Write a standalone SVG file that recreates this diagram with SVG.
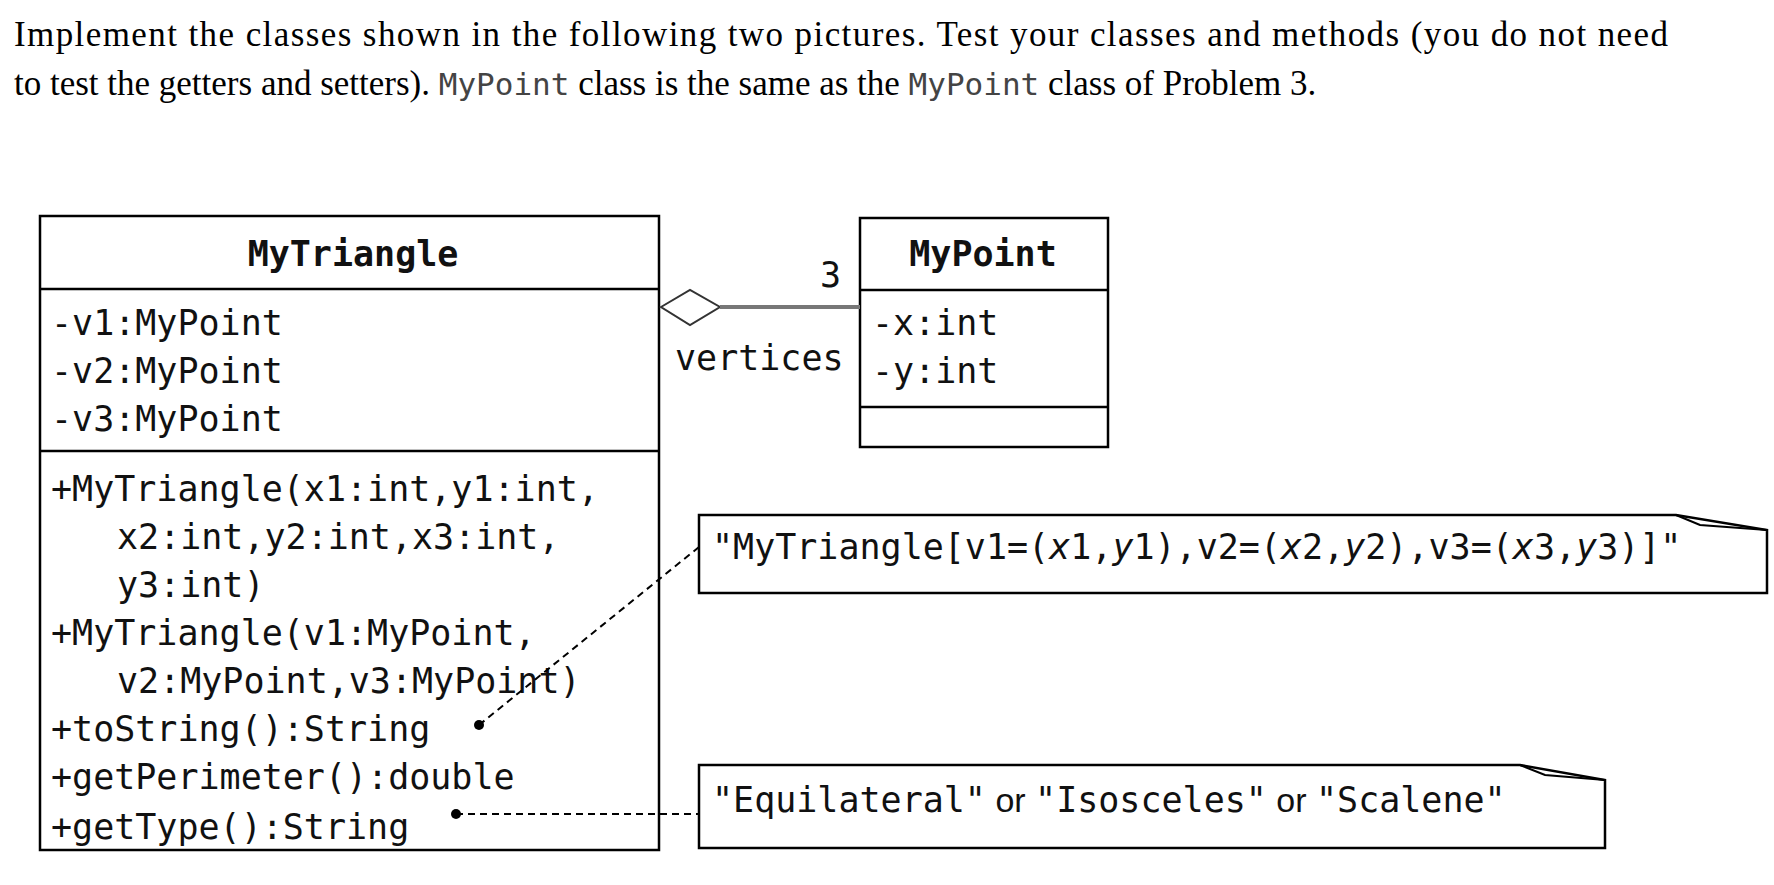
<svg xmlns="http://www.w3.org/2000/svg" width="1774" height="885" viewBox="0 0 1774 885">
<style>
.t{font-family:"Times New Roman","Liberation Serif",serif;font-size:35px;fill:#000}
.m{font-family:"DejaVu Sans Mono","Liberation Mono",monospace;font-size:35px;fill:#111}
.b{font-weight:bold}
.s{font-family:"Liberation Sans",Arial,sans-serif;font-size:34px}
.box{fill:#fff;stroke:#000;stroke-width:2.5}
.ln{stroke:#000;stroke-width:2.5}
.dash{stroke:#000;stroke-width:2;stroke-dasharray:7,5;fill:none}
</style>
<defs><clipPath id="c1"><rect x="40" y="216" width="619" height="634"/></clipPath></defs>
<rect width="1774" height="885" fill="#fff"/>
<text class="t" x="14" y="46" textLength="1654">Implement the classes shown in the following two pictures. Test your classes and methods (you do not need</text>
<text class="t" x="14" y="95">to test the getters and setters). <tspan class="m" style="font-size:31px;fill:#444">MyPoint</tspan> class is the same as the <tspan class="m" style="font-size:31px;fill:#444">MyPoint</tspan> class of Problem 3.</text>
<g id="MyTriangle">
<rect class="box" x="40" y="216" width="619" height="634"/>
<line class="ln" x1="40" y1="289" x2="659" y2="289"/>
<line class="ln" x1="40" y1="451" x2="659" y2="451"/>
<text class="m b" x="353" y="266" text-anchor="middle">MyTriangle</text>
<text class="m" x="51" y="335">-v1:MyPoint</text>
<text class="m" x="51" y="383">-v2:MyPoint</text>
<text class="m" x="51" y="431">-v3:MyPoint</text>
<g clip-path="url(#c1)">
<text class="m" x="51" y="501">+MyTriangle(x1:int,y1:int,</text>
<text class="m" x="117" y="549">x2:int,y2:int,x3:int,</text>
<text class="m" x="117" y="597">y3:int)</text>
<text class="m" x="51" y="645">+MyTriangle(v1:MyPoint,</text>
<text class="m" x="117" y="693">v2:MyPoint,v3:MyPoint)</text>
<text class="m" x="51" y="741">+toString():String</text>
<text class="m" x="51" y="789">+getPerimeter():double</text>
<text class="m" x="51" y="839">+getType():String</text>
</g>
</g>
<g id="MyPoint">
<rect class="box" x="860" y="218" width="248" height="229"/>
<line class="ln" x1="860" y1="290" x2="1108" y2="290"/>
<line class="ln" x1="860" y1="407" x2="1108" y2="407"/>
<text class="m b" x="983" y="266" text-anchor="middle">MyPoint</text>
<text class="m" x="872" y="335">-x:int</text>
<text class="m" x="872" y="383">-y:int</text>
</g>
<g id="note1">
<path class="box" d="M699 515 H1676 L1767 530 V593 H699 Z"/>
<path d="M1676 515 L1700 525 L1767 530" fill="none" stroke="#000" stroke-width="2"/>
<text class="m" x="712" y="559">"MyTriangle[v1=(<tspan font-style="italic">x</tspan>1,<tspan font-style="italic">y</tspan>1),v2=(<tspan font-style="italic">x</tspan>2,<tspan font-style="italic">y</tspan>2),v3=(<tspan font-style="italic">x</tspan>3,<tspan font-style="italic">y</tspan>3)]"</text>
</g>
<g id="note2">
<path class="box" d="M699 765 H1520 L1605 780 V848 H699 Z"/>
<path d="M1520 765 L1545 775 L1605 780" fill="none" stroke="#000" stroke-width="2"/>
<text class="m" x="712" y="812">"Equilateral"<tspan class="s"> or </tspan>"Isosceles"<tspan class="s"> or </tspan>"Scalene"</text>
</g>
<g id="connectors">
<path d="M661 307 L690 290 L720 307 L690 325 Z" fill="#fff" stroke="#333" stroke-width="2"/>
<line x1="720" y1="307" x2="860" y2="307" stroke="#777" stroke-width="4"/>
<text class="m" x="841" y="287" text-anchor="end">3</text>
<text class="m" x="675" y="370">vertices</text>
<line class="dash" x1="699" y1="547" x2="479" y2="725"/>
<circle cx="479" cy="725" r="5" fill="#000"/>
<line class="dash" x1="456" y1="814" x2="699" y2="814"/>
<circle cx="456" cy="814" r="5" fill="#000"/>
</g>
</svg>
